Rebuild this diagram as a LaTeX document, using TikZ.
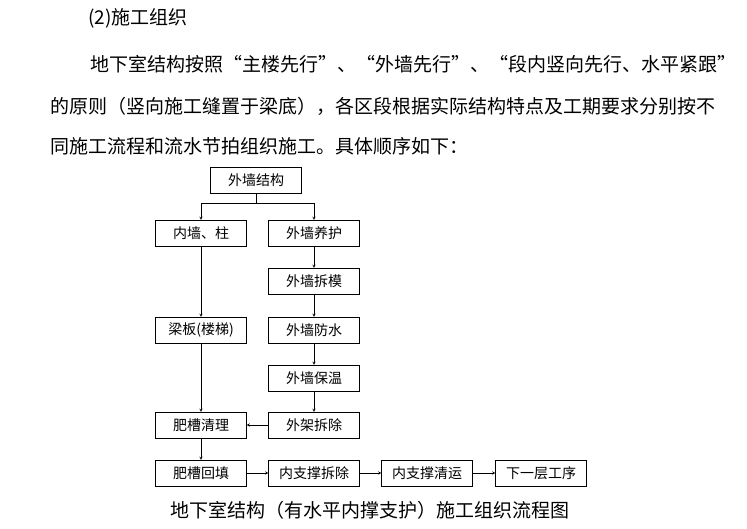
\documentclass[tikz,border=0pt]{standalone}
\usepackage{fontspec}
\setmainfont{Liberation Serif}
\newfontfamily\cjk{Noto Sans CJK SC}
\usetikzlibrary{positioning}
\begin{document}
\begin{tikzpicture}[x=1pt,y=-1pt]

\tikzstyle{box}=[draw, rectangle, inner sep=0pt, font=\cjk\fontsize{14}{14}\selectfont, minimum width=91pt, minimum height=26pt];
\tikzstyle{para}=[inner sep=0pt, anchor=west, font=\cjk\fontsize{19}{19}\selectfont];
\tikzstyle{e}=[->, >=stealth];

\useasboundingbox (0,0) rectangle (747,528);

\node[para] (title) at (88, 18) {(2)施工组织};
\node[para] (line1) at (90, 64) {地下室结构按照“主楼先行”、“外墙先行”、“段内竖向先行、水平紧跟”};
\node[para] (line2) at (50, 106) {的原则（竖向施工缝置于梁底），各区段根据实际结构特点及工期要求分别按不};
\node[para] (line3) at (50, 146) {同施工流程和流水节拍组织施工。具体顺序如下：};

\node[box] (wall) at (256, 180) {外墙结构};
\node[box] (inner) at (201, 233) {内墙、柱};
\node[box] (cure) at (314, 233) {外墙养护};
\node[box] (strip) at (314, 281) {外墙拆模};
\node[box] (slab) at (201, 330) {梁板(楼梯)};
\node[box] (proof) at (314, 330) {外墙防水};
\node[box] (insul) at (314, 378) {外墙保温};
\node[box] (clean) at (201, 425) {肥槽清理};
\node[box] (scaff) at (314, 425) {外架拆除};
\node[box] (fill) at (201, 473) {肥槽回填};
\node[box] (brace) at (314, 473) {内支撑拆除};
\node[box] (haul) at (427, 473) {内支撑清运};
\node[box] (next) at (541, 473) {下一层工序};

\node[inner sep=0pt, font=\cjk\fontsize{19}{19}\selectfont] (caption) at (370, 510) {地下室结构（有水平内撑支护）施工组织流程图};

\coordinate (split) at (256, 203);
\draw (wall) -- (split);
\draw[e] (split) -| (inner);
\draw[e] (split) -| (cure);

\draw[e] (inner) -- (slab);
\draw[e] (slab) -- (clean);
\draw[e] (cure) -- (strip);
\draw[e] (strip) -- (proof);
\draw[e] (proof) -- (insul);
\draw[e] (insul) -- (scaff);
\draw[e] (scaff) -- (clean);
\draw[e] (clean) -- (fill);
\draw[e] (fill) -- (brace);
\draw[e] (brace) -- (haul);
\draw[e] (haul) -- (next);
\end{tikzpicture}
\end{document}
